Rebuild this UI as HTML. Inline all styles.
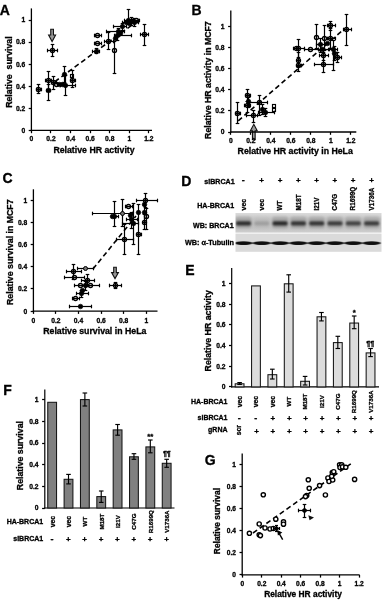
<!DOCTYPE html>
<html lang="en"><head><meta charset="utf-8"><title>Figure</title>
<style>
html,body{margin:0;padding:0;background:#fff;}
svg{display:block;font-family:"Liberation Sans",sans-serif;fill:#000;}
text{stroke:#000;stroke-width:0.3px;}
</style></head><body>
<svg width="384" height="600" viewBox="0 0 384 600">
<rect width="384" height="600" fill="#fff"/>
<g id="panelA">
<text x="-0.20" y="14.50" font-size="14" text-anchor="start" font-weight="bold" >A</text>
<line x1="31.40" y1="8.40" x2="31.40" y2="131.05" stroke="#000" stroke-width="1.3" />
<line x1="30.75" y1="130.40" x2="152.00" y2="130.40" stroke="#000" stroke-width="1.3" />
<line x1="28.70" y1="130.50" x2="31.40" y2="130.50" stroke="#000" stroke-width="1.25" />
<text x="25.20" y="132.80" font-size="6.7" text-anchor="end" font-weight="bold" >0</text>
<line x1="28.70" y1="108.50" x2="31.40" y2="108.50" stroke="#000" stroke-width="1.25" />
<text x="25.20" y="110.72" font-size="6.7" text-anchor="end" font-weight="bold" >0.2</text>
<line x1="28.70" y1="86.50" x2="31.40" y2="86.50" stroke="#000" stroke-width="1.25" />
<text x="25.20" y="88.64" font-size="6.7" text-anchor="end" font-weight="bold" >0.4</text>
<line x1="28.70" y1="64.50" x2="31.40" y2="64.50" stroke="#000" stroke-width="1.25" />
<text x="25.20" y="66.56" font-size="6.7" text-anchor="end" font-weight="bold" >0.6</text>
<line x1="28.70" y1="42.50" x2="31.40" y2="42.50" stroke="#000" stroke-width="1.25" />
<text x="25.20" y="44.48" font-size="6.7" text-anchor="end" font-weight="bold" >0.8</text>
<line x1="28.70" y1="20.50" x2="31.40" y2="20.50" stroke="#000" stroke-width="1.25" />
<text x="25.20" y="22.40" font-size="6.7" text-anchor="end" font-weight="bold" >1</text>
<line x1="31.50" y1="130.40" x2="31.50" y2="133.20" stroke="#000" stroke-width="1.25" />
<text x="31.40" y="141.40" font-size="6.7" text-anchor="middle" font-weight="bold" >0</text>
<line x1="50.50" y1="130.40" x2="50.50" y2="133.20" stroke="#000" stroke-width="1.25" />
<text x="50.98" y="141.40" font-size="6.7" text-anchor="middle" font-weight="bold" >0.2</text>
<line x1="70.50" y1="130.40" x2="70.50" y2="133.20" stroke="#000" stroke-width="1.25" />
<text x="70.56" y="141.40" font-size="6.7" text-anchor="middle" font-weight="bold" >0.4</text>
<line x1="90.50" y1="130.40" x2="90.50" y2="133.20" stroke="#000" stroke-width="1.25" />
<text x="90.14" y="141.40" font-size="6.7" text-anchor="middle" font-weight="bold" >0.6</text>
<line x1="109.50" y1="130.40" x2="109.50" y2="133.20" stroke="#000" stroke-width="1.25" />
<text x="109.72" y="141.40" font-size="6.7" text-anchor="middle" font-weight="bold" >0.8</text>
<line x1="129.50" y1="130.40" x2="129.50" y2="133.20" stroke="#000" stroke-width="1.25" />
<text x="129.30" y="141.40" font-size="6.7" text-anchor="middle" font-weight="bold" >1</text>
<line x1="148.50" y1="130.40" x2="148.50" y2="133.20" stroke="#000" stroke-width="1.25" />
<text x="148.88" y="141.40" font-size="6.7" text-anchor="middle" font-weight="bold" >1.2</text>
<text x="94.00" y="152.60" font-size="8.75" text-anchor="middle" font-weight="bold" >Relative HR activity</text>
<text x="12.00" y="72.10" font-size="8.75" text-anchor="middle" font-weight="bold" transform="rotate(-90 12.00 72.10)" xml:space="preserve">Relative  survival</text>
<line x1="54.80" y1="81.70" x2="140.40" y2="18.80" stroke="#000" stroke-width="1.6" stroke-dasharray="5 3.2"/>
<path d="M50.75 29.30H53.45V35.00H55.60L52.10 41.60L48.60 35.00H50.75Z" fill="#9a9a9a" stroke="#111" stroke-width="1.1" stroke-linejoin="miter"/>
<line x1="47.50" y1="50.50" x2="57.50" y2="50.50" stroke="#000" stroke-width="1.2" />
<line x1="47.50" y1="48.70" x2="47.50" y2="52.30" stroke="#000" stroke-width="1.2" />
<line x1="57.50" y1="48.70" x2="57.50" y2="52.30" stroke="#000" stroke-width="1.2" />
<line x1="52.50" y1="44.50" x2="52.50" y2="56.50" stroke="#000" stroke-width="1.2" />
<line x1="50.70" y1="44.50" x2="54.30" y2="44.50" stroke="#000" stroke-width="1.2" />
<line x1="50.70" y1="56.50" x2="54.30" y2="56.50" stroke="#000" stroke-width="1.2" />
<circle cx="52.50" cy="50.50" r="2.0" fill="none" stroke="#000" stroke-width="1.35"/>
<line x1="36.50" y1="89.50" x2="41.50" y2="89.50" stroke="#000" stroke-width="1.2" />
<line x1="36.50" y1="87.70" x2="36.50" y2="91.30" stroke="#000" stroke-width="1.2" />
<line x1="41.50" y1="87.70" x2="41.50" y2="91.30" stroke="#000" stroke-width="1.2" />
<line x1="38.50" y1="84.50" x2="38.50" y2="93.50" stroke="#000" stroke-width="1.2" />
<line x1="36.70" y1="84.50" x2="40.30" y2="84.50" stroke="#000" stroke-width="1.2" />
<line x1="36.70" y1="93.50" x2="40.30" y2="93.50" stroke="#000" stroke-width="1.2" />
<circle cx="38.50" cy="89.50" r="2.0" fill="none" stroke="#000" stroke-width="1.35"/>
<line x1="45.50" y1="80.50" x2="51.50" y2="80.50" stroke="#000" stroke-width="1.2" />
<line x1="45.50" y1="78.70" x2="45.50" y2="82.30" stroke="#000" stroke-width="1.2" />
<line x1="51.50" y1="78.70" x2="51.50" y2="82.30" stroke="#000" stroke-width="1.2" />
<line x1="48.50" y1="71.50" x2="48.50" y2="89.50" stroke="#000" stroke-width="1.2" />
<line x1="46.70" y1="71.50" x2="50.30" y2="71.50" stroke="#000" stroke-width="1.2" />
<line x1="46.70" y1="89.50" x2="50.30" y2="89.50" stroke="#000" stroke-width="1.2" />
<circle cx="48.50" cy="80.50" r="2.0" fill="none" stroke="#000" stroke-width="1.35"/>
<line x1="46.50" y1="90.50" x2="50.50" y2="90.50" stroke="#000" stroke-width="1.2" />
<line x1="46.50" y1="88.70" x2="46.50" y2="92.30" stroke="#000" stroke-width="1.2" />
<line x1="50.50" y1="88.70" x2="50.50" y2="92.30" stroke="#000" stroke-width="1.2" />
<line x1="48.50" y1="84.50" x2="48.50" y2="100.50" stroke="#000" stroke-width="1.2" />
<line x1="46.70" y1="84.50" x2="50.30" y2="84.50" stroke="#000" stroke-width="1.2" />
<line x1="46.70" y1="100.50" x2="50.30" y2="100.50" stroke="#000" stroke-width="1.2" />
<circle cx="48.50" cy="90.50" r="2.3" fill="#000" stroke="#000" stroke-width="0.6"/>
<line x1="51.50" y1="82.50" x2="56.50" y2="82.50" stroke="#000" stroke-width="1.2" />
<line x1="51.50" y1="80.70" x2="51.50" y2="84.30" stroke="#000" stroke-width="1.2" />
<line x1="56.50" y1="80.70" x2="56.50" y2="84.30" stroke="#000" stroke-width="1.2" />
<line x1="53.50" y1="76.50" x2="53.50" y2="89.50" stroke="#000" stroke-width="1.2" />
<line x1="51.70" y1="76.50" x2="55.30" y2="76.50" stroke="#000" stroke-width="1.2" />
<line x1="51.70" y1="89.50" x2="55.30" y2="89.50" stroke="#000" stroke-width="1.2" />
<circle cx="53.50" cy="82.50" r="2.0" fill="none" stroke="#000" stroke-width="1.35"/>
<line x1="64.50" y1="66.50" x2="64.50" y2="82.50" stroke="#000" stroke-width="1.2" />
<line x1="62.70" y1="66.50" x2="66.30" y2="66.50" stroke="#000" stroke-width="1.2" />
<line x1="62.70" y1="82.50" x2="66.30" y2="82.50" stroke="#000" stroke-width="1.2" />
<circle cx="64.50" cy="74.50" r="2.3" fill="#000" stroke="#000" stroke-width="0.6"/>
<line x1="60.50" y1="85.50" x2="75.50" y2="85.50" stroke="#000" stroke-width="1.2" />
<line x1="60.50" y1="83.70" x2="60.50" y2="87.30" stroke="#000" stroke-width="1.2" />
<line x1="75.50" y1="83.70" x2="75.50" y2="87.30" stroke="#000" stroke-width="1.2" />
<line x1="65.50" y1="75.50" x2="65.50" y2="95.50" stroke="#000" stroke-width="1.2" />
<line x1="63.70" y1="75.50" x2="67.30" y2="75.50" stroke="#000" stroke-width="1.2" />
<line x1="63.70" y1="95.50" x2="67.30" y2="95.50" stroke="#000" stroke-width="1.2" />
<circle cx="65.50" cy="85.50" r="2.3" fill="#000" stroke="#000" stroke-width="0.6"/>
<line x1="57.50" y1="84.50" x2="62.50" y2="84.50" stroke="#000" stroke-width="1.2" />
<line x1="57.50" y1="82.70" x2="57.50" y2="86.30" stroke="#000" stroke-width="1.2" />
<line x1="62.50" y1="82.70" x2="62.50" y2="86.30" stroke="#000" stroke-width="1.2" />
<circle cx="59.50" cy="84.50" r="2.3" fill="#000" stroke="#000" stroke-width="0.6"/>
<circle cx="62.50" cy="84.50" r="2.3" fill="#000" stroke="#000" stroke-width="0.6"/>
<circle cx="56.50" cy="84.50" r="2.0" fill="none" stroke="#000" stroke-width="1.35"/>
<line x1="72.50" y1="70.50" x2="72.50" y2="87.50" stroke="#000" stroke-width="1.2" />
<line x1="70.70" y1="70.50" x2="74.30" y2="70.50" stroke="#000" stroke-width="1.2" />
<line x1="70.70" y1="87.50" x2="74.30" y2="87.50" stroke="#000" stroke-width="1.2" />
<rect x="70.50" y="74.50" width="3.0" height="3.0" fill="none" stroke="#000" stroke-width="1.15"/>
<line x1="70.50" y1="80.50" x2="75.50" y2="80.50" stroke="#000" stroke-width="1.2" />
<line x1="70.50" y1="78.70" x2="70.50" y2="82.30" stroke="#000" stroke-width="1.2" />
<line x1="75.50" y1="78.70" x2="75.50" y2="82.30" stroke="#000" stroke-width="1.2" />
<circle cx="72.50" cy="80.50" r="2.0" fill="none" stroke="#000" stroke-width="1.35"/>
<line x1="92.50" y1="51.50" x2="99.50" y2="51.50" stroke="#000" stroke-width="1.2" />
<line x1="92.50" y1="49.70" x2="92.50" y2="53.30" stroke="#000" stroke-width="1.2" />
<line x1="99.50" y1="49.70" x2="99.50" y2="53.30" stroke="#000" stroke-width="1.2" />
<line x1="96.50" y1="48.50" x2="96.50" y2="53.50" stroke="#000" stroke-width="1.2" />
<line x1="94.70" y1="48.50" x2="98.30" y2="48.50" stroke="#000" stroke-width="1.2" />
<line x1="94.70" y1="53.50" x2="98.30" y2="53.50" stroke="#000" stroke-width="1.2" />
<circle cx="96.50" cy="51.50" r="2.3" fill="#000" stroke="#000" stroke-width="0.6"/>
<line x1="94.50" y1="43.50" x2="101.50" y2="43.50" stroke="#000" stroke-width="1.2" />
<line x1="94.50" y1="41.70" x2="94.50" y2="45.30" stroke="#000" stroke-width="1.2" />
<line x1="101.50" y1="41.70" x2="101.50" y2="45.30" stroke="#000" stroke-width="1.2" />
<circle cx="97.50" cy="43.50" r="2.0" fill="none" stroke="#000" stroke-width="1.35"/>
<line x1="94.50" y1="35.50" x2="101.50" y2="35.50" stroke="#000" stroke-width="1.2" />
<line x1="94.50" y1="33.70" x2="94.50" y2="37.30" stroke="#000" stroke-width="1.2" />
<line x1="101.50" y1="33.70" x2="101.50" y2="37.30" stroke="#000" stroke-width="1.2" />
<circle cx="97.50" cy="35.50" r="2.0" fill="none" stroke="#000" stroke-width="1.35"/>
<line x1="114.50" y1="41.50" x2="114.50" y2="73.50" stroke="#000" stroke-width="1.2" />
<line x1="112.70" y1="41.50" x2="116.30" y2="41.50" stroke="#000" stroke-width="1.2" />
<line x1="112.70" y1="73.50" x2="116.30" y2="73.50" stroke="#000" stroke-width="1.2" />
<circle cx="114.50" cy="50.50" r="2.0" fill="none" stroke="#000" stroke-width="1.35"/>
<line x1="104.50" y1="41.50" x2="113.50" y2="41.50" stroke="#000" stroke-width="1.2" />
<line x1="104.50" y1="39.70" x2="104.50" y2="43.30" stroke="#000" stroke-width="1.2" />
<line x1="113.50" y1="39.70" x2="113.50" y2="43.30" stroke="#000" stroke-width="1.2" />
<line x1="108.50" y1="32.50" x2="108.50" y2="49.50" stroke="#000" stroke-width="1.2" />
<line x1="106.70" y1="32.50" x2="110.30" y2="32.50" stroke="#000" stroke-width="1.2" />
<line x1="106.70" y1="49.50" x2="110.30" y2="49.50" stroke="#000" stroke-width="1.2" />
<circle cx="108.50" cy="41.50" r="2.0" fill="none" stroke="#000" stroke-width="1.35"/>
<line x1="114.50" y1="35.50" x2="131.50" y2="35.50" stroke="#000" stroke-width="1.2" />
<line x1="114.50" y1="33.70" x2="114.50" y2="37.30" stroke="#000" stroke-width="1.2" />
<line x1="131.50" y1="33.70" x2="131.50" y2="37.30" stroke="#000" stroke-width="1.2" />
<line x1="117.50" y1="31.50" x2="117.50" y2="40.50" stroke="#000" stroke-width="1.2" />
<line x1="115.70" y1="31.50" x2="119.30" y2="31.50" stroke="#000" stroke-width="1.2" />
<line x1="115.70" y1="40.50" x2="119.30" y2="40.50" stroke="#000" stroke-width="1.2" />
<circle cx="117.50" cy="35.50" r="2.3" fill="#000" stroke="#000" stroke-width="0.6"/>
<line x1="106.50" y1="31.50" x2="124.50" y2="31.50" stroke="#000" stroke-width="1.2" />
<line x1="106.50" y1="29.70" x2="106.50" y2="33.30" stroke="#000" stroke-width="1.2" />
<line x1="124.50" y1="29.70" x2="124.50" y2="33.30" stroke="#000" stroke-width="1.2" />
<line x1="118.50" y1="28.50" x2="118.50" y2="36.50" stroke="#000" stroke-width="1.2" />
<line x1="116.70" y1="28.50" x2="120.30" y2="28.50" stroke="#000" stroke-width="1.2" />
<line x1="116.70" y1="36.50" x2="120.30" y2="36.50" stroke="#000" stroke-width="1.2" />
<circle cx="118.50" cy="31.50" r="2.3" fill="#000" stroke="#000" stroke-width="0.6"/>
<line x1="113.50" y1="26.50" x2="126.50" y2="26.50" stroke="#000" stroke-width="1.2" />
<line x1="113.50" y1="24.70" x2="113.50" y2="28.30" stroke="#000" stroke-width="1.2" />
<line x1="126.50" y1="24.70" x2="126.50" y2="28.30" stroke="#000" stroke-width="1.2" />
<line x1="122.50" y1="23.50" x2="122.50" y2="30.50" stroke="#000" stroke-width="1.2" />
<line x1="120.70" y1="23.50" x2="124.30" y2="23.50" stroke="#000" stroke-width="1.2" />
<line x1="120.70" y1="30.50" x2="124.30" y2="30.50" stroke="#000" stroke-width="1.2" />
<circle cx="122.50" cy="26.50" r="2.3" fill="#000" stroke="#000" stroke-width="0.6"/>
<circle cx="120.50" cy="33.50" r="2.3" fill="#000" stroke="#000" stroke-width="0.6"/>
<circle cx="115.50" cy="38.50" r="2.3" fill="#000" stroke="#000" stroke-width="0.6"/>
<line x1="122.50" y1="22.50" x2="130.50" y2="22.50" stroke="#000" stroke-width="1.2" />
<line x1="122.50" y1="20.70" x2="122.50" y2="24.30" stroke="#000" stroke-width="1.2" />
<line x1="130.50" y1="20.70" x2="130.50" y2="24.30" stroke="#000" stroke-width="1.2" />
<circle cx="126.50" cy="22.50" r="2.3" fill="#000" stroke="#000" stroke-width="0.6"/>
<line x1="124.50" y1="20.50" x2="133.50" y2="20.50" stroke="#000" stroke-width="1.2" />
<line x1="124.50" y1="18.70" x2="124.50" y2="22.30" stroke="#000" stroke-width="1.2" />
<line x1="133.50" y1="18.70" x2="133.50" y2="22.30" stroke="#000" stroke-width="1.2" />
<line x1="128.50" y1="9.50" x2="128.50" y2="24.50" stroke="#000" stroke-width="1.2" />
<line x1="126.70" y1="9.50" x2="130.30" y2="9.50" stroke="#000" stroke-width="1.2" />
<line x1="126.70" y1="24.50" x2="130.30" y2="24.50" stroke="#000" stroke-width="1.2" />
<circle cx="128.50" cy="20.50" r="2.3" fill="#000" stroke="#000" stroke-width="0.6"/>
<line x1="127.50" y1="21.50" x2="137.50" y2="21.50" stroke="#000" stroke-width="1.2" />
<line x1="127.50" y1="19.70" x2="127.50" y2="23.30" stroke="#000" stroke-width="1.2" />
<line x1="137.50" y1="19.70" x2="137.50" y2="23.30" stroke="#000" stroke-width="1.2" />
<line x1="131.50" y1="17.50" x2="131.50" y2="25.50" stroke="#000" stroke-width="1.2" />
<line x1="129.70" y1="17.50" x2="133.30" y2="17.50" stroke="#000" stroke-width="1.2" />
<line x1="129.70" y1="25.50" x2="133.30" y2="25.50" stroke="#000" stroke-width="1.2" />
<circle cx="131.50" cy="21.50" r="2.3" fill="#000" stroke="#000" stroke-width="0.6"/>
<line x1="130.50" y1="22.50" x2="138.50" y2="22.50" stroke="#000" stroke-width="1.2" />
<line x1="130.50" y1="20.70" x2="130.50" y2="24.30" stroke="#000" stroke-width="1.2" />
<line x1="138.50" y1="20.70" x2="138.50" y2="24.30" stroke="#000" stroke-width="1.2" />
<line x1="134.50" y1="18.50" x2="134.50" y2="26.50" stroke="#000" stroke-width="1.2" />
<line x1="132.70" y1="18.50" x2="136.30" y2="18.50" stroke="#000" stroke-width="1.2" />
<line x1="132.70" y1="26.50" x2="136.30" y2="26.50" stroke="#000" stroke-width="1.2" />
<circle cx="134.50" cy="22.50" r="2.3" fill="#000" stroke="#000" stroke-width="0.6"/>
<line x1="132.50" y1="20.50" x2="139.50" y2="20.50" stroke="#000" stroke-width="1.2" />
<line x1="132.50" y1="18.70" x2="132.50" y2="22.30" stroke="#000" stroke-width="1.2" />
<line x1="139.50" y1="18.70" x2="139.50" y2="22.30" stroke="#000" stroke-width="1.2" />
<circle cx="136.50" cy="20.50" r="2.0" fill="none" stroke="#000" stroke-width="1.35"/>
<circle cx="129.50" cy="23.50" r="2.3" fill="#000" stroke="#000" stroke-width="0.6"/>
<line x1="140.50" y1="34.50" x2="148.50" y2="34.50" stroke="#000" stroke-width="1.2" />
<line x1="140.50" y1="32.70" x2="140.50" y2="36.30" stroke="#000" stroke-width="1.2" />
<line x1="148.50" y1="32.70" x2="148.50" y2="36.30" stroke="#000" stroke-width="1.2" />
<line x1="144.50" y1="24.50" x2="144.50" y2="45.50" stroke="#000" stroke-width="1.2" />
<line x1="142.70" y1="24.50" x2="146.30" y2="24.50" stroke="#000" stroke-width="1.2" />
<line x1="142.70" y1="45.50" x2="146.30" y2="45.50" stroke="#000" stroke-width="1.2" />
<circle cx="144.50" cy="34.50" r="2.0" fill="none" stroke="#000" stroke-width="1.35"/>
</g>
<g id="panelB">
<text x="191.40" y="15.20" font-size="14" text-anchor="start" font-weight="bold" >B</text>
<path d="M252.45 139.80H255.15V130.70H257.20L253.80 124.30L250.40 130.70H252.45Z" fill="#9a9a9a" stroke="#111" stroke-width="1.1" stroke-linejoin="miter"/>
<line x1="230.80" y1="10.40" x2="230.80" y2="132.65" stroke="#000" stroke-width="1.3" />
<line x1="230.15" y1="132.00" x2="356.30" y2="132.00" stroke="#000" stroke-width="1.3" />
<line x1="228.10" y1="132.50" x2="230.80" y2="132.50" stroke="#000" stroke-width="1.25" />
<text x="224.60" y="134.40" font-size="6.7" text-anchor="end" font-weight="bold" >0</text>
<line x1="228.10" y1="110.50" x2="230.80" y2="110.50" stroke="#000" stroke-width="1.25" />
<text x="224.60" y="113.24" font-size="6.7" text-anchor="end" font-weight="bold" >0.2</text>
<line x1="228.10" y1="89.50" x2="230.80" y2="89.50" stroke="#000" stroke-width="1.25" />
<text x="224.60" y="92.08" font-size="6.7" text-anchor="end" font-weight="bold" >0.4</text>
<line x1="228.10" y1="68.50" x2="230.80" y2="68.50" stroke="#000" stroke-width="1.25" />
<text x="224.60" y="70.92" font-size="6.7" text-anchor="end" font-weight="bold" >0.6</text>
<line x1="228.10" y1="47.50" x2="230.80" y2="47.50" stroke="#000" stroke-width="1.25" />
<text x="224.60" y="49.76" font-size="6.7" text-anchor="end" font-weight="bold" >0.8</text>
<line x1="228.10" y1="26.50" x2="230.80" y2="26.50" stroke="#000" stroke-width="1.25" />
<text x="224.60" y="28.60" font-size="6.7" text-anchor="end" font-weight="bold" >1</text>
<line x1="230.50" y1="132.00" x2="230.50" y2="134.80" stroke="#000" stroke-width="1.25" />
<text x="230.80" y="142.70" font-size="6.7" text-anchor="middle" font-weight="bold" >0</text>
<line x1="250.50" y1="132.00" x2="250.50" y2="134.80" stroke="#000" stroke-width="1.25" />
<text x="250.80" y="142.70" font-size="6.7" text-anchor="middle" font-weight="bold" >0.2</text>
<line x1="270.50" y1="132.00" x2="270.50" y2="134.80" stroke="#000" stroke-width="1.25" />
<text x="270.80" y="142.70" font-size="6.7" text-anchor="middle" font-weight="bold" >0.4</text>
<line x1="290.50" y1="132.00" x2="290.50" y2="134.80" stroke="#000" stroke-width="1.25" />
<text x="290.80" y="142.70" font-size="6.7" text-anchor="middle" font-weight="bold" >0.6</text>
<line x1="310.50" y1="132.00" x2="310.50" y2="134.80" stroke="#000" stroke-width="1.25" />
<text x="310.80" y="142.70" font-size="6.7" text-anchor="middle" font-weight="bold" >0.8</text>
<line x1="330.50" y1="132.00" x2="330.50" y2="134.80" stroke="#000" stroke-width="1.25" />
<text x="330.80" y="142.70" font-size="6.7" text-anchor="middle" font-weight="bold" >1</text>
<line x1="350.50" y1="132.00" x2="350.50" y2="134.80" stroke="#000" stroke-width="1.25" />
<text x="350.80" y="142.70" font-size="6.7" text-anchor="middle" font-weight="bold" >1.2</text>
<text x="295.20" y="154.20" font-size="8.75" text-anchor="middle" font-weight="bold" >Relative HR activity in HeLa</text>
<text x="211.00" y="80.10" font-size="8.75" text-anchor="middle" font-weight="bold" transform="rotate(-90 211.00 80.10)" xml:space="preserve">Relative HR activity in MCF7</text>
<line x1="238.20" y1="120.80" x2="343.00" y2="30.00" stroke="#000" stroke-width="1.6" stroke-dasharray="5 3.2"/>
<line x1="235.50" y1="113.50" x2="240.50" y2="113.50" stroke="#000" stroke-width="1.2" />
<line x1="235.50" y1="111.70" x2="235.50" y2="115.30" stroke="#000" stroke-width="1.2" />
<line x1="240.50" y1="111.70" x2="240.50" y2="115.30" stroke="#000" stroke-width="1.2" />
<line x1="237.50" y1="102.50" x2="237.50" y2="123.50" stroke="#000" stroke-width="1.2" />
<line x1="235.70" y1="102.50" x2="239.30" y2="102.50" stroke="#000" stroke-width="1.2" />
<line x1="235.70" y1="123.50" x2="239.30" y2="123.50" stroke="#000" stroke-width="1.2" />
<circle cx="237.50" cy="113.50" r="2.0" fill="none" stroke="#000" stroke-width="1.35"/>
<line x1="245.50" y1="95.50" x2="250.50" y2="95.50" stroke="#000" stroke-width="1.2" />
<line x1="245.50" y1="93.70" x2="245.50" y2="97.30" stroke="#000" stroke-width="1.2" />
<line x1="250.50" y1="93.70" x2="250.50" y2="97.30" stroke="#000" stroke-width="1.2" />
<line x1="247.50" y1="89.50" x2="247.50" y2="101.50" stroke="#000" stroke-width="1.2" />
<line x1="245.70" y1="89.50" x2="249.30" y2="89.50" stroke="#000" stroke-width="1.2" />
<line x1="245.70" y1="101.50" x2="249.30" y2="101.50" stroke="#000" stroke-width="1.2" />
<circle cx="247.50" cy="95.50" r="2.0" fill="none" stroke="#000" stroke-width="1.35"/>
<line x1="248.50" y1="97.50" x2="248.50" y2="107.50" stroke="#000" stroke-width="1.2" />
<line x1="246.70" y1="97.50" x2="250.30" y2="97.50" stroke="#000" stroke-width="1.2" />
<line x1="246.70" y1="107.50" x2="250.30" y2="107.50" stroke="#000" stroke-width="1.2" />
<circle cx="248.50" cy="101.50" r="2.3" fill="#000" stroke="#000" stroke-width="0.6"/>
<line x1="244.50" y1="105.50" x2="250.50" y2="105.50" stroke="#000" stroke-width="1.2" />
<line x1="244.50" y1="103.70" x2="244.50" y2="107.30" stroke="#000" stroke-width="1.2" />
<line x1="250.50" y1="103.70" x2="250.50" y2="107.30" stroke="#000" stroke-width="1.2" />
<line x1="247.50" y1="101.50" x2="247.50" y2="112.50" stroke="#000" stroke-width="1.2" />
<line x1="245.70" y1="101.50" x2="249.30" y2="101.50" stroke="#000" stroke-width="1.2" />
<line x1="245.70" y1="112.50" x2="249.30" y2="112.50" stroke="#000" stroke-width="1.2" />
<circle cx="247.50" cy="105.50" r="2.0" fill="none" stroke="#000" stroke-width="1.35"/>
<line x1="249.50" y1="102.50" x2="267.50" y2="102.50" stroke="#000" stroke-width="1.2" />
<line x1="249.50" y1="100.70" x2="249.50" y2="104.30" stroke="#000" stroke-width="1.2" />
<line x1="267.50" y1="100.70" x2="267.50" y2="104.30" stroke="#000" stroke-width="1.2" />
<line x1="259.50" y1="95.50" x2="259.50" y2="115.50" stroke="#000" stroke-width="1.2" />
<line x1="257.70" y1="95.50" x2="261.30" y2="95.50" stroke="#000" stroke-width="1.2" />
<line x1="257.70" y1="115.50" x2="261.30" y2="115.50" stroke="#000" stroke-width="1.2" />
<circle cx="259.50" cy="102.50" r="2.0" fill="none" stroke="#000" stroke-width="1.35"/>
<line x1="246.50" y1="115.50" x2="257.50" y2="115.50" stroke="#000" stroke-width="1.2" />
<line x1="246.50" y1="113.70" x2="246.50" y2="117.30" stroke="#000" stroke-width="1.2" />
<line x1="257.50" y1="113.70" x2="257.50" y2="117.30" stroke="#000" stroke-width="1.2" />
<line x1="253.50" y1="110.50" x2="253.50" y2="122.50" stroke="#000" stroke-width="1.2" />
<line x1="251.70" y1="110.50" x2="255.30" y2="110.50" stroke="#000" stroke-width="1.2" />
<line x1="251.70" y1="122.50" x2="255.30" y2="122.50" stroke="#000" stroke-width="1.2" />
<circle cx="253.50" cy="115.50" r="2.0" fill="none" stroke="#000" stroke-width="1.35"/>
<line x1="262.50" y1="104.50" x2="262.50" y2="114.50" stroke="#000" stroke-width="1.2" />
<line x1="260.70" y1="104.50" x2="264.30" y2="104.50" stroke="#000" stroke-width="1.2" />
<line x1="260.70" y1="114.50" x2="264.30" y2="114.50" stroke="#000" stroke-width="1.2" />
<circle cx="262.50" cy="109.50" r="2.3" fill="#000" stroke="#000" stroke-width="0.6"/>
<line x1="258.50" y1="112.50" x2="274.50" y2="112.50" stroke="#000" stroke-width="1.2" />
<line x1="258.50" y1="110.70" x2="258.50" y2="114.30" stroke="#000" stroke-width="1.2" />
<line x1="274.50" y1="110.70" x2="274.50" y2="114.30" stroke="#000" stroke-width="1.2" />
<line x1="265.50" y1="108.50" x2="265.50" y2="116.50" stroke="#000" stroke-width="1.2" />
<line x1="263.70" y1="108.50" x2="267.30" y2="108.50" stroke="#000" stroke-width="1.2" />
<line x1="263.70" y1="116.50" x2="267.30" y2="116.50" stroke="#000" stroke-width="1.2" />
<circle cx="265.50" cy="112.50" r="2.3" fill="#000" stroke="#000" stroke-width="0.6"/>
<rect x="272.50" y="104.50" width="3.0" height="3.0" fill="none" stroke="#000" stroke-width="1.15"/>
<rect x="272.50" y="108.50" width="3.0" height="3.0" fill="none" stroke="#000" stroke-width="1.15"/>
<line x1="343.50" y1="29.50" x2="351.50" y2="29.50" stroke="#000" stroke-width="1.2" />
<line x1="343.50" y1="27.70" x2="343.50" y2="31.30" stroke="#000" stroke-width="1.2" />
<line x1="351.50" y1="27.70" x2="351.50" y2="31.30" stroke="#000" stroke-width="1.2" />
<line x1="346.50" y1="14.50" x2="346.50" y2="45.50" stroke="#000" stroke-width="1.2" />
<line x1="344.70" y1="14.50" x2="348.30" y2="14.50" stroke="#000" stroke-width="1.2" />
<line x1="344.70" y1="45.50" x2="348.30" y2="45.50" stroke="#000" stroke-width="1.2" />
<circle cx="346.50" cy="29.50" r="2.0" fill="none" stroke="#000" stroke-width="1.35"/>
<line x1="327.50" y1="25.50" x2="335.50" y2="25.50" stroke="#000" stroke-width="1.2" />
<line x1="327.50" y1="23.70" x2="327.50" y2="27.30" stroke="#000" stroke-width="1.2" />
<line x1="335.50" y1="23.70" x2="335.50" y2="27.30" stroke="#000" stroke-width="1.2" />
<line x1="330.50" y1="21.50" x2="330.50" y2="30.50" stroke="#000" stroke-width="1.2" />
<line x1="328.70" y1="21.50" x2="332.30" y2="21.50" stroke="#000" stroke-width="1.2" />
<line x1="328.70" y1="30.50" x2="332.30" y2="30.50" stroke="#000" stroke-width="1.2" />
<circle cx="330.50" cy="25.50" r="2.0" fill="none" stroke="#000" stroke-width="1.35"/>
<line x1="316.50" y1="24.50" x2="316.50" y2="48.50" stroke="#000" stroke-width="1.2" />
<line x1="314.70" y1="24.50" x2="318.30" y2="24.50" stroke="#000" stroke-width="1.2" />
<line x1="314.70" y1="48.50" x2="318.30" y2="48.50" stroke="#000" stroke-width="1.2" />
<circle cx="316.50" cy="37.50" r="2.0" fill="none" stroke="#000" stroke-width="1.35"/>
<line x1="324.50" y1="25.50" x2="324.50" y2="50.50" stroke="#000" stroke-width="1.2" />
<line x1="322.70" y1="25.50" x2="326.30" y2="25.50" stroke="#000" stroke-width="1.2" />
<line x1="322.70" y1="50.50" x2="326.30" y2="50.50" stroke="#000" stroke-width="1.2" />
<circle cx="324.50" cy="38.50" r="2.0" fill="none" stroke="#000" stroke-width="1.35"/>
<line x1="327.50" y1="38.50" x2="335.50" y2="38.50" stroke="#000" stroke-width="1.2" />
<line x1="327.50" y1="36.70" x2="327.50" y2="40.30" stroke="#000" stroke-width="1.2" />
<line x1="335.50" y1="36.70" x2="335.50" y2="40.30" stroke="#000" stroke-width="1.2" />
<line x1="330.50" y1="28.50" x2="330.50" y2="48.50" stroke="#000" stroke-width="1.2" />
<line x1="328.70" y1="28.50" x2="332.30" y2="28.50" stroke="#000" stroke-width="1.2" />
<line x1="328.70" y1="48.50" x2="332.30" y2="48.50" stroke="#000" stroke-width="1.2" />
<circle cx="330.50" cy="38.50" r="2.0" fill="none" stroke="#000" stroke-width="1.35"/>
<line x1="293.50" y1="48.50" x2="304.50" y2="48.50" stroke="#000" stroke-width="1.2" />
<line x1="293.50" y1="46.70" x2="293.50" y2="50.30" stroke="#000" stroke-width="1.2" />
<line x1="304.50" y1="46.70" x2="304.50" y2="50.30" stroke="#000" stroke-width="1.2" />
<line x1="298.50" y1="39.50" x2="298.50" y2="57.50" stroke="#000" stroke-width="1.2" />
<line x1="296.70" y1="39.50" x2="300.30" y2="39.50" stroke="#000" stroke-width="1.2" />
<line x1="296.70" y1="57.50" x2="300.30" y2="57.50" stroke="#000" stroke-width="1.2" />
<circle cx="298.50" cy="48.50" r="2.0" fill="none" stroke="#000" stroke-width="1.35"/>
<circle cx="296.50" cy="48.50" r="2.0" fill="none" stroke="#000" stroke-width="1.35"/>
<line x1="304.50" y1="49.50" x2="318.50" y2="49.50" stroke="#000" stroke-width="1.2" />
<line x1="304.50" y1="47.70" x2="304.50" y2="51.30" stroke="#000" stroke-width="1.2" />
<line x1="318.50" y1="47.70" x2="318.50" y2="51.30" stroke="#000" stroke-width="1.2" />
<circle cx="310.50" cy="49.50" r="2.0" fill="none" stroke="#000" stroke-width="1.35"/>
<line x1="316.50" y1="44.50" x2="325.50" y2="44.50" stroke="#000" stroke-width="1.2" />
<line x1="316.50" y1="42.70" x2="316.50" y2="46.30" stroke="#000" stroke-width="1.2" />
<line x1="325.50" y1="42.70" x2="325.50" y2="46.30" stroke="#000" stroke-width="1.2" />
<line x1="320.50" y1="38.50" x2="320.50" y2="52.50" stroke="#000" stroke-width="1.2" />
<line x1="318.70" y1="38.50" x2="322.30" y2="38.50" stroke="#000" stroke-width="1.2" />
<line x1="318.70" y1="52.50" x2="322.30" y2="52.50" stroke="#000" stroke-width="1.2" />
<circle cx="320.50" cy="44.50" r="2.3" fill="#000" stroke="#000" stroke-width="0.6"/>
<line x1="318.50" y1="49.50" x2="328.50" y2="49.50" stroke="#000" stroke-width="1.2" />
<line x1="318.50" y1="47.70" x2="318.50" y2="51.30" stroke="#000" stroke-width="1.2" />
<line x1="328.50" y1="47.70" x2="328.50" y2="51.30" stroke="#000" stroke-width="1.2" />
<circle cx="322.50" cy="49.50" r="2.3" fill="#000" stroke="#000" stroke-width="0.6"/>
<line x1="319.50" y1="55.50" x2="328.50" y2="55.50" stroke="#000" stroke-width="1.2" />
<line x1="319.50" y1="53.70" x2="319.50" y2="57.30" stroke="#000" stroke-width="1.2" />
<line x1="328.50" y1="53.70" x2="328.50" y2="57.30" stroke="#000" stroke-width="1.2" />
<line x1="323.50" y1="48.50" x2="323.50" y2="60.50" stroke="#000" stroke-width="1.2" />
<line x1="321.70" y1="48.50" x2="325.30" y2="48.50" stroke="#000" stroke-width="1.2" />
<line x1="321.70" y1="60.50" x2="325.30" y2="60.50" stroke="#000" stroke-width="1.2" />
<circle cx="323.50" cy="55.50" r="2.0" fill="none" stroke="#000" stroke-width="1.35"/>
<line x1="329.50" y1="49.50" x2="337.50" y2="49.50" stroke="#000" stroke-width="1.2" />
<line x1="329.50" y1="47.70" x2="329.50" y2="51.30" stroke="#000" stroke-width="1.2" />
<line x1="337.50" y1="47.70" x2="337.50" y2="51.30" stroke="#000" stroke-width="1.2" />
<circle cx="333.50" cy="49.50" r="2.3" fill="#000" stroke="#000" stroke-width="0.6"/>
<line x1="334.50" y1="46.50" x2="334.50" y2="60.50" stroke="#000" stroke-width="1.2" />
<line x1="332.70" y1="46.50" x2="336.30" y2="46.50" stroke="#000" stroke-width="1.2" />
<line x1="332.70" y1="60.50" x2="336.30" y2="60.50" stroke="#000" stroke-width="1.2" />
<circle cx="334.50" cy="53.50" r="2.3" fill="#000" stroke="#000" stroke-width="0.6"/>
<line x1="334.50" y1="57.50" x2="341.50" y2="57.50" stroke="#000" stroke-width="1.2" />
<line x1="334.50" y1="55.70" x2="334.50" y2="59.30" stroke="#000" stroke-width="1.2" />
<line x1="341.50" y1="55.70" x2="341.50" y2="59.30" stroke="#000" stroke-width="1.2" />
<line x1="337.50" y1="52.50" x2="337.50" y2="62.50" stroke="#000" stroke-width="1.2" />
<line x1="335.70" y1="52.50" x2="339.30" y2="52.50" stroke="#000" stroke-width="1.2" />
<line x1="335.70" y1="62.50" x2="339.30" y2="62.50" stroke="#000" stroke-width="1.2" />
<circle cx="337.50" cy="57.50" r="2.0" fill="none" stroke="#000" stroke-width="1.35"/>
<line x1="314.50" y1="64.50" x2="333.50" y2="64.50" stroke="#000" stroke-width="1.2" />
<line x1="314.50" y1="62.70" x2="314.50" y2="66.30" stroke="#000" stroke-width="1.2" />
<line x1="333.50" y1="62.70" x2="333.50" y2="66.30" stroke="#000" stroke-width="1.2" />
<line x1="323.50" y1="52.50" x2="323.50" y2="72.50" stroke="#000" stroke-width="1.2" />
<line x1="321.70" y1="52.50" x2="325.30" y2="52.50" stroke="#000" stroke-width="1.2" />
<line x1="321.70" y1="72.50" x2="325.30" y2="72.50" stroke="#000" stroke-width="1.2" />
<circle cx="323.50" cy="64.50" r="2.0" fill="none" stroke="#000" stroke-width="1.35"/>
<line x1="333.50" y1="40.50" x2="333.50" y2="70.50" stroke="#000" stroke-width="1.2" />
<line x1="331.70" y1="40.50" x2="335.30" y2="40.50" stroke="#000" stroke-width="1.2" />
<line x1="331.70" y1="70.50" x2="335.30" y2="70.50" stroke="#000" stroke-width="1.2" />
<line x1="298.50" y1="52.50" x2="298.50" y2="66.50" stroke="#000" stroke-width="1.2" />
<line x1="296.70" y1="52.50" x2="300.30" y2="52.50" stroke="#000" stroke-width="1.2" />
<line x1="296.70" y1="66.50" x2="300.30" y2="66.50" stroke="#000" stroke-width="1.2" />
<circle cx="298.50" cy="60.50" r="2.0" fill="none" stroke="#000" stroke-width="1.35"/>
<line x1="296.50" y1="65.50" x2="301.50" y2="65.50" stroke="#000" stroke-width="1.2" />
<line x1="296.50" y1="63.70" x2="296.50" y2="67.30" stroke="#000" stroke-width="1.2" />
<line x1="301.50" y1="63.70" x2="301.50" y2="67.30" stroke="#000" stroke-width="1.2" />
<line x1="298.50" y1="60.50" x2="298.50" y2="71.50" stroke="#000" stroke-width="1.2" />
<line x1="296.70" y1="60.50" x2="300.30" y2="60.50" stroke="#000" stroke-width="1.2" />
<line x1="296.70" y1="71.50" x2="300.30" y2="71.50" stroke="#000" stroke-width="1.2" />
<circle cx="298.50" cy="65.50" r="2.0" fill="none" stroke="#000" stroke-width="1.35"/>
<circle cx="327.50" cy="43.50" r="2.3" fill="#000" stroke="#000" stroke-width="0.6"/>
</g>
<g id="panelC">
<text x="2.40" y="182.60" font-size="14" text-anchor="start" font-weight="bold" >C</text>
<line x1="33.40" y1="189.30" x2="33.40" y2="311.75" stroke="#000" stroke-width="1.3" />
<line x1="32.75" y1="311.10" x2="157.50" y2="311.10" stroke="#000" stroke-width="1.3" />
<line x1="30.70" y1="311.50" x2="33.40" y2="311.50" stroke="#000" stroke-width="1.25" />
<text x="27.20" y="313.50" font-size="6.7" text-anchor="end" font-weight="bold" >0</text>
<line x1="30.70" y1="288.50" x2="33.40" y2="288.50" stroke="#000" stroke-width="1.25" />
<text x="27.20" y="291.34" font-size="6.7" text-anchor="end" font-weight="bold" >0.2</text>
<line x1="30.70" y1="266.50" x2="33.40" y2="266.50" stroke="#000" stroke-width="1.25" />
<text x="27.20" y="269.18" font-size="6.7" text-anchor="end" font-weight="bold" >0.4</text>
<line x1="30.70" y1="244.50" x2="33.40" y2="244.50" stroke="#000" stroke-width="1.25" />
<text x="27.20" y="247.02" font-size="6.7" text-anchor="end" font-weight="bold" >0.6</text>
<line x1="30.70" y1="222.50" x2="33.40" y2="222.50" stroke="#000" stroke-width="1.25" />
<text x="27.20" y="224.86" font-size="6.7" text-anchor="end" font-weight="bold" >0.8</text>
<line x1="30.70" y1="200.50" x2="33.40" y2="200.50" stroke="#000" stroke-width="1.25" />
<text x="27.20" y="202.70" font-size="6.7" text-anchor="end" font-weight="bold" >1</text>
<line x1="33.50" y1="311.10" x2="33.50" y2="313.90" stroke="#000" stroke-width="1.25" />
<text x="33.30" y="322.50" font-size="6.7" text-anchor="middle" font-weight="bold" >0</text>
<line x1="55.50" y1="311.10" x2="55.50" y2="313.90" stroke="#000" stroke-width="1.25" />
<text x="55.90" y="322.50" font-size="6.7" text-anchor="middle" font-weight="bold" >0.2</text>
<line x1="78.50" y1="311.10" x2="78.50" y2="313.90" stroke="#000" stroke-width="1.25" />
<text x="78.50" y="322.50" font-size="6.7" text-anchor="middle" font-weight="bold" >0.4</text>
<line x1="101.50" y1="311.10" x2="101.50" y2="313.90" stroke="#000" stroke-width="1.25" />
<text x="101.10" y="322.50" font-size="6.7" text-anchor="middle" font-weight="bold" >0.6</text>
<line x1="123.50" y1="311.10" x2="123.50" y2="313.90" stroke="#000" stroke-width="1.25" />
<text x="123.70" y="322.50" font-size="6.7" text-anchor="middle" font-weight="bold" >0.8</text>
<line x1="146.50" y1="311.10" x2="146.50" y2="313.90" stroke="#000" stroke-width="1.25" />
<text x="146.30" y="322.50" font-size="6.7" text-anchor="middle" font-weight="bold" >1</text>
<text x="94.80" y="333.80" font-size="8.75" text-anchor="middle" font-weight="bold" >Relative survival in HeLa</text>
<text x="13.20" y="252.20" font-size="8.75" text-anchor="middle" font-weight="bold" transform="rotate(-90 13.20 252.20)" xml:space="preserve">Relative survival in MCF7</text>
<line x1="93.00" y1="269.00" x2="136.00" y2="216.00" stroke="#000" stroke-width="1.6" stroke-dasharray="5 3.2"/>
<path d="M113.70 267.30H116.30V272.60H118.40L115.00 278.60L111.60 272.60H113.70Z" fill="#9a9a9a" stroke="#111" stroke-width="1.1" stroke-linejoin="miter"/>
<line x1="69.50" y1="306.50" x2="91.50" y2="306.50" stroke="#000" stroke-width="1.2" />
<line x1="69.50" y1="304.70" x2="69.50" y2="308.30" stroke="#000" stroke-width="1.2" />
<line x1="91.50" y1="304.70" x2="91.50" y2="308.30" stroke="#000" stroke-width="1.2" />
<circle cx="80.50" cy="306.50" r="2.3" fill="#000" stroke="#000" stroke-width="0.6"/>
<line x1="72.50" y1="298.50" x2="79.50" y2="298.50" stroke="#000" stroke-width="1.2" />
<line x1="72.50" y1="296.70" x2="72.50" y2="300.30" stroke="#000" stroke-width="1.2" />
<line x1="79.50" y1="296.70" x2="79.50" y2="300.30" stroke="#000" stroke-width="1.2" />
<circle cx="75.50" cy="298.50" r="2.0" fill="none" stroke="#000" stroke-width="1.35"/>
<line x1="76.50" y1="293.50" x2="88.50" y2="293.50" stroke="#000" stroke-width="1.2" />
<line x1="76.50" y1="291.70" x2="76.50" y2="295.30" stroke="#000" stroke-width="1.2" />
<line x1="88.50" y1="291.70" x2="88.50" y2="295.30" stroke="#000" stroke-width="1.2" />
<line x1="81.50" y1="290.50" x2="81.50" y2="297.50" stroke="#000" stroke-width="1.2" />
<line x1="79.70" y1="290.50" x2="83.30" y2="290.50" stroke="#000" stroke-width="1.2" />
<line x1="79.70" y1="297.50" x2="83.30" y2="297.50" stroke="#000" stroke-width="1.2" />
<circle cx="81.50" cy="293.50" r="2.3" fill="#000" stroke="#000" stroke-width="0.6"/>
<line x1="74.50" y1="285.50" x2="86.50" y2="285.50" stroke="#000" stroke-width="1.2" />
<line x1="74.50" y1="283.70" x2="74.50" y2="287.30" stroke="#000" stroke-width="1.2" />
<line x1="86.50" y1="283.70" x2="86.50" y2="287.30" stroke="#000" stroke-width="1.2" />
<circle cx="80.50" cy="285.50" r="2.0" fill="none" stroke="#000" stroke-width="1.35"/>
<line x1="85.50" y1="281.50" x2="85.50" y2="290.50" stroke="#000" stroke-width="1.2" />
<line x1="83.70" y1="281.50" x2="87.30" y2="281.50" stroke="#000" stroke-width="1.2" />
<line x1="83.70" y1="290.50" x2="87.30" y2="290.50" stroke="#000" stroke-width="1.2" />
<circle cx="85.50" cy="285.50" r="2.3" fill="#000" stroke="#000" stroke-width="0.6"/>
<line x1="84.50" y1="285.50" x2="99.50" y2="285.50" stroke="#000" stroke-width="1.2" />
<line x1="84.50" y1="283.70" x2="84.50" y2="287.30" stroke="#000" stroke-width="1.2" />
<line x1="99.50" y1="283.70" x2="99.50" y2="287.30" stroke="#000" stroke-width="1.2" />
<circle cx="90.50" cy="285.50" r="2.0" fill="none" stroke="#000" stroke-width="1.35"/>
<line x1="81.50" y1="280.50" x2="94.50" y2="280.50" stroke="#000" stroke-width="1.2" />
<line x1="81.50" y1="278.70" x2="81.50" y2="282.30" stroke="#000" stroke-width="1.2" />
<line x1="94.50" y1="278.70" x2="94.50" y2="282.30" stroke="#000" stroke-width="1.2" />
<line x1="87.50" y1="274.50" x2="87.50" y2="286.50" stroke="#000" stroke-width="1.2" />
<line x1="85.70" y1="274.50" x2="89.30" y2="274.50" stroke="#000" stroke-width="1.2" />
<line x1="85.70" y1="286.50" x2="89.30" y2="286.50" stroke="#000" stroke-width="1.2" />
<circle cx="87.50" cy="280.50" r="2.0" fill="none" stroke="#000" stroke-width="1.35"/>
<line x1="66.50" y1="271.50" x2="81.50" y2="271.50" stroke="#000" stroke-width="1.2" />
<line x1="66.50" y1="269.70" x2="66.50" y2="273.30" stroke="#000" stroke-width="1.2" />
<line x1="81.50" y1="269.70" x2="81.50" y2="273.30" stroke="#000" stroke-width="1.2" />
<line x1="73.50" y1="264.50" x2="73.50" y2="279.50" stroke="#000" stroke-width="1.2" />
<line x1="71.70" y1="264.50" x2="75.30" y2="264.50" stroke="#000" stroke-width="1.2" />
<line x1="71.70" y1="279.50" x2="75.30" y2="279.50" stroke="#000" stroke-width="1.2" />
<circle cx="73.50" cy="271.50" r="2.0" fill="none" stroke="#000" stroke-width="1.35"/>
<line x1="64.50" y1="277.50" x2="84.50" y2="277.50" stroke="#000" stroke-width="1.2" />
<line x1="64.50" y1="275.70" x2="64.50" y2="279.30" stroke="#000" stroke-width="1.2" />
<line x1="84.50" y1="275.70" x2="84.50" y2="279.30" stroke="#000" stroke-width="1.2" />
<circle cx="74.50" cy="277.50" r="2.0" fill="none" stroke="#000" stroke-width="1.35"/>
<line x1="77.50" y1="268.50" x2="93.50" y2="268.50" stroke="#000" stroke-width="1.2" />
<line x1="77.50" y1="266.70" x2="77.50" y2="270.30" stroke="#000" stroke-width="1.2" />
<line x1="93.50" y1="266.70" x2="93.50" y2="270.30" stroke="#000" stroke-width="1.2" />
<circle cx="85.50" cy="268.50" r="2.0" fill="#777" stroke="#000" stroke-width="1"/>
<circle cx="82.50" cy="290.50" r="2.3" fill="#000" stroke="#000" stroke-width="0.6"/>
<line x1="109.50" y1="285.50" x2="121.50" y2="285.50" stroke="#000" stroke-width="1.2" />
<line x1="109.50" y1="283.70" x2="109.50" y2="287.30" stroke="#000" stroke-width="1.2" />
<line x1="121.50" y1="283.70" x2="121.50" y2="287.30" stroke="#000" stroke-width="1.2" />
<line x1="115.50" y1="282.50" x2="115.50" y2="288.50" stroke="#000" stroke-width="1.2" />
<line x1="113.70" y1="282.50" x2="117.30" y2="282.50" stroke="#000" stroke-width="1.2" />
<line x1="113.70" y1="288.50" x2="117.30" y2="288.50" stroke="#000" stroke-width="1.2" />
<circle cx="115.50" cy="285.50" r="2.0" fill="none" stroke="#000" stroke-width="1.35"/>
<line x1="92.50" y1="213.50" x2="132.50" y2="213.50" stroke="#000" stroke-width="1.2" />
<line x1="92.50" y1="211.70" x2="92.50" y2="215.30" stroke="#000" stroke-width="1.2" />
<line x1="132.50" y1="211.70" x2="132.50" y2="215.30" stroke="#000" stroke-width="1.2" />
<line x1="122.50" y1="199.50" x2="122.50" y2="226.50" stroke="#000" stroke-width="1.2" />
<line x1="120.70" y1="199.50" x2="124.30" y2="199.50" stroke="#000" stroke-width="1.2" />
<line x1="120.70" y1="226.50" x2="124.30" y2="226.50" stroke="#000" stroke-width="1.2" />
<circle cx="122.50" cy="213.50" r="2.0" fill="#777" stroke="#000" stroke-width="1"/>
<line x1="111.50" y1="216.50" x2="118.50" y2="216.50" stroke="#000" stroke-width="1.2" />
<line x1="111.50" y1="214.70" x2="111.50" y2="218.30" stroke="#000" stroke-width="1.2" />
<line x1="118.50" y1="214.70" x2="118.50" y2="218.30" stroke="#000" stroke-width="1.2" />
<line x1="114.50" y1="201.50" x2="114.50" y2="226.50" stroke="#000" stroke-width="1.2" />
<line x1="112.70" y1="201.50" x2="116.30" y2="201.50" stroke="#000" stroke-width="1.2" />
<line x1="112.70" y1="226.50" x2="116.30" y2="226.50" stroke="#000" stroke-width="1.2" />
<circle cx="114.50" cy="216.50" r="2.3" fill="#000" stroke="#000" stroke-width="0.6"/>
<circle cx="112.50" cy="216.50" r="2.3" fill="#000" stroke="#000" stroke-width="0.6"/>
<line x1="125.50" y1="206.50" x2="132.50" y2="206.50" stroke="#000" stroke-width="1.2" />
<line x1="125.50" y1="204.70" x2="125.50" y2="208.30" stroke="#000" stroke-width="1.2" />
<line x1="132.50" y1="204.70" x2="132.50" y2="208.30" stroke="#000" stroke-width="1.2" />
<circle cx="128.50" cy="206.50" r="2.0" fill="none" stroke="#000" stroke-width="1.35"/>
<line x1="136.50" y1="200.50" x2="157.50" y2="200.50" stroke="#000" stroke-width="1.2" />
<line x1="136.50" y1="198.70" x2="136.50" y2="202.30" stroke="#000" stroke-width="1.2" />
<line x1="157.50" y1="198.70" x2="157.50" y2="202.30" stroke="#000" stroke-width="1.2" />
<line x1="145.50" y1="193.50" x2="145.50" y2="207.50" stroke="#000" stroke-width="1.2" />
<line x1="143.70" y1="193.50" x2="147.30" y2="193.50" stroke="#000" stroke-width="1.2" />
<line x1="143.70" y1="207.50" x2="147.30" y2="207.50" stroke="#000" stroke-width="1.2" />
<circle cx="145.50" cy="200.50" r="2.0" fill="none" stroke="#000" stroke-width="1.35"/>
<circle cx="144.50" cy="204.50" r="2.3" fill="#000" stroke="#000" stroke-width="0.6"/>
<line x1="144.50" y1="205.50" x2="144.50" y2="222.50" stroke="#000" stroke-width="1.2" />
<line x1="142.70" y1="205.50" x2="146.30" y2="205.50" stroke="#000" stroke-width="1.2" />
<line x1="142.70" y1="222.50" x2="146.30" y2="222.50" stroke="#000" stroke-width="1.2" />
<circle cx="144.50" cy="212.50" r="2.3" fill="#000" stroke="#000" stroke-width="0.6"/>
<line x1="146.50" y1="208.50" x2="146.50" y2="229.50" stroke="#000" stroke-width="1.2" />
<line x1="144.70" y1="208.50" x2="148.30" y2="208.50" stroke="#000" stroke-width="1.2" />
<line x1="144.70" y1="229.50" x2="148.30" y2="229.50" stroke="#000" stroke-width="1.2" />
<circle cx="146.50" cy="216.50" r="2.0" fill="none" stroke="#000" stroke-width="1.35"/>
<circle cx="138.50" cy="212.50" r="2.3" fill="#000" stroke="#000" stroke-width="0.6"/>
<line x1="126.50" y1="219.50" x2="137.50" y2="219.50" stroke="#000" stroke-width="1.2" />
<line x1="126.50" y1="217.70" x2="126.50" y2="221.30" stroke="#000" stroke-width="1.2" />
<line x1="137.50" y1="217.70" x2="137.50" y2="221.30" stroke="#000" stroke-width="1.2" />
<line x1="131.50" y1="212.50" x2="131.50" y2="228.50" stroke="#000" stroke-width="1.2" />
<line x1="129.70" y1="212.50" x2="133.30" y2="212.50" stroke="#000" stroke-width="1.2" />
<line x1="129.70" y1="228.50" x2="133.30" y2="228.50" stroke="#000" stroke-width="1.2" />
<circle cx="131.50" cy="219.50" r="2.3" fill="#000" stroke="#000" stroke-width="0.6"/>
<line x1="122.50" y1="223.50" x2="138.50" y2="223.50" stroke="#000" stroke-width="1.2" />
<line x1="122.50" y1="221.70" x2="122.50" y2="225.30" stroke="#000" stroke-width="1.2" />
<line x1="138.50" y1="221.70" x2="138.50" y2="225.30" stroke="#000" stroke-width="1.2" />
<circle cx="133.50" cy="223.50" r="2.3" fill="#000" stroke="#000" stroke-width="0.6"/>
<circle cx="130.50" cy="215.50" r="2.3" fill="#000" stroke="#000" stroke-width="0.6"/>
<line x1="144.50" y1="214.50" x2="144.50" y2="229.50" stroke="#000" stroke-width="1.2" />
<line x1="142.70" y1="214.50" x2="146.30" y2="214.50" stroke="#000" stroke-width="1.2" />
<line x1="142.70" y1="229.50" x2="146.30" y2="229.50" stroke="#000" stroke-width="1.2" />
<circle cx="144.50" cy="222.50" r="2.0" fill="none" stroke="#000" stroke-width="1.35"/>
<line x1="136.50" y1="234.50" x2="141.50" y2="234.50" stroke="#000" stroke-width="1.2" />
<line x1="136.50" y1="232.70" x2="136.50" y2="236.30" stroke="#000" stroke-width="1.2" />
<line x1="141.50" y1="232.70" x2="141.50" y2="236.30" stroke="#000" stroke-width="1.2" />
<line x1="138.50" y1="204.50" x2="138.50" y2="254.50" stroke="#000" stroke-width="1.2" />
<line x1="136.70" y1="204.50" x2="140.30" y2="204.50" stroke="#000" stroke-width="1.2" />
<line x1="136.70" y1="254.50" x2="140.30" y2="254.50" stroke="#000" stroke-width="1.2" />
<circle cx="138.50" cy="234.50" r="2.0" fill="none" stroke="#000" stroke-width="1.35"/>
<line x1="116.50" y1="239.50" x2="133.50" y2="239.50" stroke="#000" stroke-width="1.2" />
<line x1="116.50" y1="237.70" x2="116.50" y2="241.30" stroke="#000" stroke-width="1.2" />
<line x1="133.50" y1="237.70" x2="133.50" y2="241.30" stroke="#000" stroke-width="1.2" />
<line x1="124.50" y1="224.50" x2="124.50" y2="254.50" stroke="#000" stroke-width="1.2" />
<line x1="122.70" y1="224.50" x2="126.30" y2="224.50" stroke="#000" stroke-width="1.2" />
<line x1="122.70" y1="254.50" x2="126.30" y2="254.50" stroke="#000" stroke-width="1.2" />
<circle cx="124.50" cy="239.50" r="2.0" fill="none" stroke="#000" stroke-width="1.35"/>
<line x1="133.50" y1="203.50" x2="133.50" y2="244.50" stroke="#000" stroke-width="1.2" />
<line x1="131.70" y1="203.50" x2="135.30" y2="203.50" stroke="#000" stroke-width="1.2" />
<line x1="131.70" y1="244.50" x2="135.30" y2="244.50" stroke="#000" stroke-width="1.2" />
</g>
<g id="panelD">
<text x="181.30" y="185.70" font-size="14" text-anchor="start" font-weight="bold" >D</text>
<text x="234.60" y="184.10" font-size="7.1" text-anchor="end" font-weight="bold" >siBRCA1</text>
<text x="234.20" y="208.40" font-size="7.1" text-anchor="end" font-weight="bold" >HA-BRCA1</text>
<text x="233.60" y="227.80" font-size="7.1" text-anchor="end" font-weight="bold" >WB: BRCA1</text>
<text x="234.00" y="245.40" font-size="7.25" text-anchor="end" font-weight="bold" >WB: α-Tubulin</text>
<text x="243.30" y="183.33" font-size="9" text-anchor="middle" font-weight="bold" stroke-width="0.6">-</text>
<text x="261.70" y="183.18" font-size="8.0" text-anchor="middle" font-weight="bold" stroke-width="0.7">+</text>
<text x="280.00" y="183.18" font-size="8.0" text-anchor="middle" font-weight="bold" stroke-width="0.7">+</text>
<text x="298.30" y="183.18" font-size="8.0" text-anchor="middle" font-weight="bold" stroke-width="0.7">+</text>
<text x="316.60" y="183.18" font-size="8.0" text-anchor="middle" font-weight="bold" stroke-width="0.7">+</text>
<text x="334.90" y="183.18" font-size="8.0" text-anchor="middle" font-weight="bold" stroke-width="0.7">+</text>
<text x="353.20" y="183.18" font-size="8.0" text-anchor="middle" font-weight="bold" stroke-width="0.7">+</text>
<text x="371.50" y="183.18" font-size="8.0" text-anchor="middle" font-weight="bold" stroke-width="0.7">+</text>
<text x="245.90" y="210.40" font-size="6.9" text-anchor="start" font-weight="bold" transform="rotate(-90 245.90 210.40)" >vec</text>
<text x="264.20" y="210.40" font-size="6.9" text-anchor="start" font-weight="bold" transform="rotate(-90 264.20 210.40)" >vec</text>
<text x="282.30" y="210.40" font-size="6.3" text-anchor="start" font-weight="bold" transform="rotate(-90 282.30 210.40)" >WT</text>
<text x="300.60" y="210.40" font-size="6.3" text-anchor="start" font-weight="bold" transform="rotate(-90 300.60 210.40)" >M18T</text>
<text x="318.90" y="210.40" font-size="6.3" text-anchor="start" font-weight="bold" transform="rotate(-90 318.90 210.40)" >I21V</text>
<text x="337.20" y="210.40" font-size="6.3" text-anchor="start" font-weight="bold" transform="rotate(-90 337.20 210.40)" >C47G</text>
<text x="355.50" y="210.40" font-size="6.3" text-anchor="start" font-weight="bold" transform="rotate(-90 355.50 210.40)" >R1699Q</text>
<text x="373.80" y="210.40" font-size="6.3" text-anchor="start" font-weight="bold" transform="rotate(-90 373.80 210.40)" >V1736A</text>
<defs><filter id="bl" x="-20%" y="-100%" width="140%" height="300%"><feGaussianBlur stdDeviation="0.9 0.9"/></filter><filter id="bl2" x="-20%" y="-100%" width="140%" height="300%"><feGaussianBlur stdDeviation="1 0.7"/></filter><linearGradient id="g1" x1="0" y1="0" x2="0" y2="1"><stop offset="0" stop-color="#dcdcdc"/><stop offset="0.3" stop-color="#c6c6c6"/><stop offset="0.75" stop-color="#c4c4c4"/><stop offset="1" stop-color="#cecece"/></linearGradient><clipPath id="c1"><rect x="235.5" y="213" width="146" height="19.6"/></clipPath><clipPath id="c2"><rect x="235.5" y="233.6" width="146" height="18.2"/></clipPath></defs>
<rect x="235.5" y="213" width="146" height="19.6" fill="url(#g1)"/>
<rect x="235.5" y="233.6" width="146" height="18.2" fill="#dadada"/>
<g clip-path="url(#c1)" filter="url(#bl)">
<rect x="235.3" y="216.5" width="16.4" height="12" rx="3" fill="#000" opacity="0.14"/>
<rect x="235.8" y="221.2" width="15.4" height="4.4" rx="2" fill="#000" opacity="0.74"/>
<rect x="253.6" y="216.5" width="16.4" height="12" rx="3" fill="#000" opacity="0.03"/>
<rect x="254.1" y="221.2" width="15.4" height="4.4" rx="2" fill="#000" opacity="0.17"/>
<rect x="271.9" y="216.5" width="16.4" height="12" rx="3" fill="#000" opacity="0.15"/>
<rect x="272.4" y="221.2" width="15.4" height="4.4" rx="2" fill="#000" opacity="0.76"/>
<rect x="290.2" y="216.5" width="16.4" height="12" rx="3" fill="#000" opacity="0.14"/>
<rect x="290.7" y="221.2" width="15.4" height="4.4" rx="2" fill="#000" opacity="0.70"/>
<rect x="308.5" y="216.5" width="16.4" height="12" rx="3" fill="#000" opacity="0.14"/>
<rect x="309.0" y="221.2" width="15.4" height="4.4" rx="2" fill="#000" opacity="0.70"/>
<rect x="326.8" y="216.5" width="16.4" height="12" rx="3" fill="#000" opacity="0.13"/>
<rect x="327.3" y="221.2" width="15.4" height="4.4" rx="2" fill="#000" opacity="0.66"/>
<rect x="345.1" y="216.5" width="16.4" height="12" rx="3" fill="#000" opacity="0.12"/>
<rect x="345.6" y="221.2" width="15.4" height="4.4" rx="2" fill="#000" opacity="0.62"/>
<rect x="363.4" y="216.5" width="16.4" height="12" rx="3" fill="#000" opacity="0.13"/>
<rect x="363.9" y="221.2" width="15.4" height="4.4" rx="2" fill="#000" opacity="0.66"/>
</g>
<g clip-path="url(#c2)" filter="url(#bl2)">
<ellipse cx="243.5" cy="243.2" rx="8.6" ry="1.9" fill="#000" opacity="0.9"/>
<ellipse cx="261.8" cy="243.2" rx="8.6" ry="1.9" fill="#000" opacity="0.9"/>
<ellipse cx="280.1" cy="243.2" rx="8.6" ry="1.9" fill="#000" opacity="0.9"/>
<ellipse cx="298.4" cy="243.2" rx="8.6" ry="1.9" fill="#000" opacity="0.9"/>
<ellipse cx="316.7" cy="243.2" rx="8.6" ry="1.9" fill="#000" opacity="0.9"/>
<ellipse cx="335.0" cy="243.2" rx="8.6" ry="1.9" fill="#000" opacity="0.9"/>
<ellipse cx="353.3" cy="243.2" rx="8.6" ry="1.9" fill="#000" opacity="0.9"/>
<ellipse cx="371.6" cy="243.2" rx="8.6" ry="1.9" fill="#000" opacity="0.9"/>
<rect x="236" y="242.5" width="145" height="1.2" fill="#000" opacity="0.55"/>
</g>
</g>
<g id="panelE">
<text x="185.30" y="274.70" font-size="14" text-anchor="start" font-weight="bold" >E</text>
<line x1="231.70" y1="268.00" x2="231.70" y2="387.50" stroke="#000" stroke-width="1.2" />
<line x1="231.10" y1="386.90" x2="379.00" y2="386.90" stroke="#000" stroke-width="1.2" />
<line x1="229.00" y1="386.50" x2="231.70" y2="386.50" stroke="#000" stroke-width="1.25" />
<text x="225.50" y="389.30" font-size="6.7" text-anchor="end" font-weight="bold" >0</text>
<line x1="229.00" y1="366.50" x2="231.70" y2="366.50" stroke="#000" stroke-width="1.25" />
<text x="225.50" y="368.62" font-size="6.7" text-anchor="end" font-weight="bold" >0.2</text>
<line x1="229.00" y1="345.50" x2="231.70" y2="345.50" stroke="#000" stroke-width="1.25" />
<text x="225.50" y="347.94" font-size="6.7" text-anchor="end" font-weight="bold" >0.4</text>
<line x1="229.00" y1="324.50" x2="231.70" y2="324.50" stroke="#000" stroke-width="1.25" />
<text x="225.50" y="327.26" font-size="6.7" text-anchor="end" font-weight="bold" >0.6</text>
<line x1="229.00" y1="304.50" x2="231.70" y2="304.50" stroke="#000" stroke-width="1.25" />
<text x="225.50" y="306.58" font-size="6.7" text-anchor="end" font-weight="bold" >0.8</text>
<line x1="229.00" y1="283.50" x2="231.70" y2="283.50" stroke="#000" stroke-width="1.25" />
<text x="225.50" y="285.90" font-size="6.7" text-anchor="end" font-weight="bold" >1</text>
<text x="210.60" y="330.80" font-size="8.75" text-anchor="middle" font-weight="bold" transform="rotate(-90 210.60 330.80)" >Relative HR activity</text>
<rect x="235.20" y="383.80" width="8.8" height="3.10" fill="#dcdcdc" stroke="#151515" stroke-width="1.05"/>
<line x1="239.60" y1="382.60" x2="239.60" y2="384.40" stroke="#000" stroke-width="1.15" />
<line x1="237.30" y1="382.60" x2="241.90" y2="382.60" stroke="#000" stroke-width="1.15" />
<line x1="237.30" y1="384.40" x2="241.90" y2="384.40" stroke="#000" stroke-width="1.15" />
<rect x="251.57" y="285.90" width="8.8" height="101.00" fill="#dcdcdc" stroke="#151515" stroke-width="1.05"/>
<rect x="267.94" y="374.70" width="8.8" height="12.20" fill="#dcdcdc" stroke="#151515" stroke-width="1.05"/>
<line x1="272.34" y1="369.20" x2="272.34" y2="379.00" stroke="#000" stroke-width="1.15" />
<line x1="270.04" y1="369.20" x2="274.64" y2="369.20" stroke="#000" stroke-width="1.15" />
<line x1="270.04" y1="379.00" x2="274.64" y2="379.00" stroke="#000" stroke-width="1.15" />
<rect x="284.31" y="283.80" width="8.8" height="103.10" fill="#dcdcdc" stroke="#151515" stroke-width="1.05"/>
<line x1="288.71" y1="274.80" x2="288.71" y2="292.10" stroke="#000" stroke-width="1.15" />
<line x1="286.41" y1="274.80" x2="291.01" y2="274.80" stroke="#000" stroke-width="1.15" />
<line x1="286.41" y1="292.10" x2="291.01" y2="292.10" stroke="#000" stroke-width="1.15" />
<rect x="300.68" y="381.30" width="8.8" height="5.60" fill="#dcdcdc" stroke="#151515" stroke-width="1.05"/>
<line x1="305.08" y1="376.40" x2="305.08" y2="385.00" stroke="#000" stroke-width="1.15" />
<line x1="302.78" y1="376.40" x2="307.38" y2="376.40" stroke="#000" stroke-width="1.15" />
<line x1="302.78" y1="385.00" x2="307.38" y2="385.00" stroke="#000" stroke-width="1.15" />
<rect x="317.05" y="316.80" width="8.8" height="70.10" fill="#dcdcdc" stroke="#151515" stroke-width="1.05"/>
<line x1="321.45" y1="312.50" x2="321.45" y2="320.90" stroke="#000" stroke-width="1.15" />
<line x1="319.15" y1="312.50" x2="323.75" y2="312.50" stroke="#000" stroke-width="1.15" />
<line x1="319.15" y1="320.90" x2="323.75" y2="320.90" stroke="#000" stroke-width="1.15" />
<rect x="333.42" y="342.60" width="8.8" height="44.30" fill="#dcdcdc" stroke="#151515" stroke-width="1.05"/>
<line x1="337.82" y1="336.30" x2="337.82" y2="348.50" stroke="#000" stroke-width="1.15" />
<line x1="335.52" y1="336.30" x2="340.12" y2="336.30" stroke="#000" stroke-width="1.15" />
<line x1="335.52" y1="348.50" x2="340.12" y2="348.50" stroke="#000" stroke-width="1.15" />
<rect x="349.79" y="323.05" width="8.8" height="63.85" fill="#dcdcdc" stroke="#151515" stroke-width="1.05"/>
<line x1="354.19" y1="316.00" x2="354.19" y2="328.70" stroke="#000" stroke-width="1.15" />
<line x1="351.89" y1="316.00" x2="356.49" y2="316.00" stroke="#000" stroke-width="1.15" />
<line x1="351.89" y1="328.70" x2="356.49" y2="328.70" stroke="#000" stroke-width="1.15" />
<rect x="366.16" y="352.90" width="8.8" height="34.00" fill="#dcdcdc" stroke="#151515" stroke-width="1.05"/>
<line x1="370.56" y1="348.50" x2="370.56" y2="356.60" stroke="#000" stroke-width="1.15" />
<line x1="368.26" y1="348.50" x2="372.86" y2="348.50" stroke="#000" stroke-width="1.15" />
<line x1="368.26" y1="356.60" x2="372.86" y2="356.60" stroke="#000" stroke-width="1.15" />
<text x="354.19" y="315.40" font-size="7.8" text-anchor="middle" font-weight="bold" stroke="none">*</text>
<text x="370.16" y="346.20" font-size="7" text-anchor="middle" font-weight="bold" >¶¶</text>
<text x="242.00" y="401.60" font-size="6.9" text-anchor="middle" font-weight="bold" transform="rotate(-90 242.00 401.60)" >vec</text>
<text x="258.37" y="401.60" font-size="6.9" text-anchor="middle" font-weight="bold" transform="rotate(-90 258.37 401.60)" >vec</text>
<text x="274.74" y="401.60" font-size="6.9" text-anchor="middle" font-weight="bold" transform="rotate(-90 274.74 401.60)" >vec</text>
<text x="291.01" y="401.60" font-size="6.2" text-anchor="middle" font-weight="bold" transform="rotate(-90 291.01 401.60)" >WT</text>
<text x="307.38" y="401.60" font-size="6.2" text-anchor="middle" font-weight="bold" transform="rotate(-90 307.38 401.60)" >M18T</text>
<text x="323.75" y="401.60" font-size="6.2" text-anchor="middle" font-weight="bold" transform="rotate(-90 323.75 401.60)" >I21V</text>
<text x="340.12" y="401.60" font-size="6.2" text-anchor="middle" font-weight="bold" transform="rotate(-90 340.12 401.60)" >C47G</text>
<text x="356.49" y="401.60" font-size="6.2" text-anchor="middle" font-weight="bold" transform="rotate(-90 356.49 401.60)" >R1699Q</text>
<text x="372.86" y="401.60" font-size="6.2" text-anchor="middle" font-weight="bold" transform="rotate(-90 372.86 401.60)" >V1736A</text>
<text x="227.50" y="403.70" font-size="7.0" text-anchor="end" font-weight="bold" >HA-BRCA1</text>
<text x="227.50" y="420.00" font-size="7.0" text-anchor="end" font-weight="bold" >siBRCA1</text>
<text x="227.50" y="432.20" font-size="7.0" text-anchor="end" font-weight="bold" >gRNA</text>
<text x="239.30" y="420.63" font-size="9" text-anchor="middle" font-weight="bold" stroke-width="0.6">-</text>
<text x="240.80" y="430.20" font-size="6.7" text-anchor="middle" font-weight="bold" transform="rotate(-90 240.80 430.20)" >scr</text>
<text x="255.67" y="420.63" font-size="9" text-anchor="middle" font-weight="bold" stroke-width="0.6">-</text>
<text x="256.57" y="434.08" font-size="8.0" text-anchor="middle" font-weight="bold" stroke-width="0.7">+</text>
<text x="272.94" y="421.28" font-size="8.0" text-anchor="middle" font-weight="bold" stroke-width="0.7">+</text>
<text x="272.94" y="434.08" font-size="8.0" text-anchor="middle" font-weight="bold" stroke-width="0.7">+</text>
<text x="289.31" y="421.28" font-size="8.0" text-anchor="middle" font-weight="bold" stroke-width="0.7">+</text>
<text x="289.31" y="434.08" font-size="8.0" text-anchor="middle" font-weight="bold" stroke-width="0.7">+</text>
<text x="305.68" y="421.28" font-size="8.0" text-anchor="middle" font-weight="bold" stroke-width="0.7">+</text>
<text x="305.68" y="434.08" font-size="8.0" text-anchor="middle" font-weight="bold" stroke-width="0.7">+</text>
<text x="322.05" y="421.28" font-size="8.0" text-anchor="middle" font-weight="bold" stroke-width="0.7">+</text>
<text x="322.05" y="434.08" font-size="8.0" text-anchor="middle" font-weight="bold" stroke-width="0.7">+</text>
<text x="338.42" y="421.28" font-size="8.0" text-anchor="middle" font-weight="bold" stroke-width="0.7">+</text>
<text x="338.42" y="434.08" font-size="8.0" text-anchor="middle" font-weight="bold" stroke-width="0.7">+</text>
<text x="354.79" y="421.28" font-size="8.0" text-anchor="middle" font-weight="bold" stroke-width="0.7">+</text>
<text x="354.79" y="434.08" font-size="8.0" text-anchor="middle" font-weight="bold" stroke-width="0.7">+</text>
<text x="371.16" y="421.28" font-size="8.0" text-anchor="middle" font-weight="bold" stroke-width="0.7">+</text>
<text x="371.16" y="434.08" font-size="8.0" text-anchor="middle" font-weight="bold" stroke-width="0.7">+</text>
</g>
<g id="panelF">
<text x="3.20" y="395.00" font-size="14" text-anchor="start" font-weight="bold" >F</text>
<line x1="44.80" y1="389.50" x2="44.80" y2="508.60" stroke="#000" stroke-width="1.2" />
<line x1="44.20" y1="508.00" x2="174.50" y2="508.00" stroke="#000" stroke-width="1.2" />
<line x1="42.10" y1="508.50" x2="44.80" y2="508.50" stroke="#000" stroke-width="1.25" />
<text x="38.60" y="510.40" font-size="6.7" text-anchor="end" font-weight="bold" >0</text>
<line x1="42.10" y1="486.50" x2="44.80" y2="486.50" stroke="#000" stroke-width="1.25" />
<text x="38.60" y="488.74" font-size="6.7" text-anchor="end" font-weight="bold" >0.2</text>
<line x1="42.10" y1="464.50" x2="44.80" y2="464.50" stroke="#000" stroke-width="1.25" />
<text x="38.60" y="467.08" font-size="6.7" text-anchor="end" font-weight="bold" >0.4</text>
<line x1="42.10" y1="443.50" x2="44.80" y2="443.50" stroke="#000" stroke-width="1.25" />
<text x="38.60" y="445.42" font-size="6.7" text-anchor="end" font-weight="bold" >0.6</text>
<line x1="42.10" y1="421.50" x2="44.80" y2="421.50" stroke="#000" stroke-width="1.25" />
<text x="38.60" y="423.76" font-size="6.7" text-anchor="end" font-weight="bold" >0.8</text>
<line x1="42.10" y1="399.50" x2="44.80" y2="399.50" stroke="#000" stroke-width="1.25" />
<text x="38.60" y="402.10" font-size="6.7" text-anchor="end" font-weight="bold" >1</text>
<text x="23.00" y="455.60" font-size="8.75" text-anchor="middle" font-weight="bold" transform="rotate(-90 23.00 455.60)" >Relative survival</text>
<rect x="47.75" y="402.30" width="8.8" height="105.70" fill="#808080" stroke="#151515" stroke-width="1.05"/>
<rect x="64.11" y="479.30" width="8.8" height="28.70" fill="#808080" stroke="#151515" stroke-width="1.05"/>
<line x1="68.51" y1="474.40" x2="68.51" y2="483.90" stroke="#000" stroke-width="1.15" />
<line x1="66.21" y1="474.40" x2="70.81" y2="474.40" stroke="#000" stroke-width="1.15" />
<line x1="66.21" y1="483.90" x2="70.81" y2="483.90" stroke="#000" stroke-width="1.15" />
<rect x="80.47" y="399.60" width="8.8" height="108.40" fill="#808080" stroke="#151515" stroke-width="1.05"/>
<line x1="84.87" y1="393.00" x2="84.87" y2="406.00" stroke="#000" stroke-width="1.15" />
<line x1="82.57" y1="393.00" x2="87.17" y2="393.00" stroke="#000" stroke-width="1.15" />
<line x1="82.57" y1="406.00" x2="87.17" y2="406.00" stroke="#000" stroke-width="1.15" />
<rect x="96.83" y="496.60" width="8.8" height="11.40" fill="#808080" stroke="#151515" stroke-width="1.05"/>
<line x1="101.23" y1="491.00" x2="101.23" y2="502.40" stroke="#000" stroke-width="1.15" />
<line x1="98.93" y1="491.00" x2="103.53" y2="491.00" stroke="#000" stroke-width="1.15" />
<line x1="98.93" y1="502.40" x2="103.53" y2="502.40" stroke="#000" stroke-width="1.15" />
<rect x="113.19" y="429.90" width="8.8" height="78.10" fill="#808080" stroke="#151515" stroke-width="1.05"/>
<line x1="117.59" y1="424.50" x2="117.59" y2="435.20" stroke="#000" stroke-width="1.15" />
<line x1="115.29" y1="424.50" x2="119.89" y2="424.50" stroke="#000" stroke-width="1.15" />
<line x1="115.29" y1="435.20" x2="119.89" y2="435.20" stroke="#000" stroke-width="1.15" />
<rect x="129.55" y="456.80" width="8.8" height="51.20" fill="#808080" stroke="#151515" stroke-width="1.05"/>
<line x1="133.95" y1="453.70" x2="133.95" y2="459.30" stroke="#000" stroke-width="1.15" />
<line x1="131.65" y1="453.70" x2="136.25" y2="453.70" stroke="#000" stroke-width="1.15" />
<line x1="131.65" y1="459.30" x2="136.25" y2="459.30" stroke="#000" stroke-width="1.15" />
<rect x="145.91" y="446.90" width="8.8" height="61.10" fill="#808080" stroke="#151515" stroke-width="1.05"/>
<line x1="150.31" y1="440.00" x2="150.31" y2="452.80" stroke="#000" stroke-width="1.15" />
<line x1="148.01" y1="440.00" x2="152.61" y2="440.00" stroke="#000" stroke-width="1.15" />
<line x1="148.01" y1="452.80" x2="152.61" y2="452.80" stroke="#000" stroke-width="1.15" />
<rect x="162.27" y="463.30" width="8.8" height="44.70" fill="#808080" stroke="#151515" stroke-width="1.05"/>
<line x1="166.67" y1="459.30" x2="166.67" y2="467.30" stroke="#000" stroke-width="1.15" />
<line x1="164.37" y1="459.30" x2="168.97" y2="459.30" stroke="#000" stroke-width="1.15" />
<line x1="164.37" y1="467.30" x2="168.97" y2="467.30" stroke="#000" stroke-width="1.15" />
<text x="150.31" y="439.20" font-size="7.8" text-anchor="middle" font-weight="bold" stroke="none">**</text>
<text x="166.87" y="456.40" font-size="7" text-anchor="middle" font-weight="bold" >¶¶</text>
<text x="54.55" y="521.60" font-size="6.9" text-anchor="middle" font-weight="bold" transform="rotate(-90 54.55 521.60)" >vec</text>
<text x="70.91" y="521.60" font-size="6.9" text-anchor="middle" font-weight="bold" transform="rotate(-90 70.91 521.60)" >vec</text>
<text x="87.17" y="521.60" font-size="6.2" text-anchor="middle" font-weight="bold" transform="rotate(-90 87.17 521.60)" >WT</text>
<text x="103.53" y="521.60" font-size="6.2" text-anchor="middle" font-weight="bold" transform="rotate(-90 103.53 521.60)" >M18T</text>
<text x="119.89" y="521.60" font-size="6.2" text-anchor="middle" font-weight="bold" transform="rotate(-90 119.89 521.60)" >I21V</text>
<text x="136.25" y="521.60" font-size="6.2" text-anchor="middle" font-weight="bold" transform="rotate(-90 136.25 521.60)" >C47G</text>
<text x="152.61" y="521.60" font-size="6.2" text-anchor="middle" font-weight="bold" transform="rotate(-90 152.61 521.60)" >R1699Q</text>
<text x="168.97" y="521.60" font-size="6.2" text-anchor="middle" font-weight="bold" transform="rotate(-90 168.97 521.60)" >V1736A</text>
<text x="43.20" y="523.80" font-size="7.0" text-anchor="end" font-weight="bold" >HA-BRCA1</text>
<text x="43.20" y="540.50" font-size="7.0" text-anchor="end" font-weight="bold" >siBRCA1</text>
<text x="51.95" y="542.13" font-size="9" text-anchor="middle" font-weight="bold" stroke-width="0.6">-</text>
<text x="68.31" y="542.48" font-size="8.0" text-anchor="middle" font-weight="bold" stroke-width="0.7">+</text>
<text x="84.67" y="542.48" font-size="8.0" text-anchor="middle" font-weight="bold" stroke-width="0.7">+</text>
<text x="101.03" y="542.48" font-size="8.0" text-anchor="middle" font-weight="bold" stroke-width="0.7">+</text>
<text x="117.39" y="542.48" font-size="8.0" text-anchor="middle" font-weight="bold" stroke-width="0.7">+</text>
<text x="133.75" y="542.48" font-size="8.0" text-anchor="middle" font-weight="bold" stroke-width="0.7">+</text>
<text x="150.11" y="542.48" font-size="8.0" text-anchor="middle" font-weight="bold" stroke-width="0.7">+</text>
<text x="166.47" y="542.48" font-size="8.0" text-anchor="middle" font-weight="bold" stroke-width="0.7">+</text>
</g>
<g id="panelG">
<text x="204.80" y="465.30" font-size="14" text-anchor="start" font-weight="bold" >G</text>
<line x1="242.20" y1="453.50" x2="242.20" y2="575.45" stroke="#000" stroke-width="1.3" />
<line x1="241.55" y1="574.80" x2="359.50" y2="574.80" stroke="#000" stroke-width="1.3" />
<line x1="239.50" y1="574.50" x2="242.20" y2="574.50" stroke="#000" stroke-width="1.25" />
<text x="236.00" y="577.30" font-size="6.6" text-anchor="end" font-weight="bold" >0</text>
<line x1="239.50" y1="552.50" x2="242.20" y2="552.50" stroke="#000" stroke-width="1.25" />
<text x="236.00" y="555.22" font-size="6.6" text-anchor="end" font-weight="bold" >0.2</text>
<line x1="239.50" y1="530.50" x2="242.20" y2="530.50" stroke="#000" stroke-width="1.25" />
<text x="236.00" y="533.14" font-size="6.6" text-anchor="end" font-weight="bold" >0.4</text>
<line x1="239.50" y1="508.50" x2="242.20" y2="508.50" stroke="#000" stroke-width="1.25" />
<text x="236.00" y="511.06" font-size="6.6" text-anchor="end" font-weight="bold" >0.6</text>
<line x1="239.50" y1="486.50" x2="242.20" y2="486.50" stroke="#000" stroke-width="1.25" />
<text x="236.00" y="488.98" font-size="6.6" text-anchor="end" font-weight="bold" >0.8</text>
<line x1="239.50" y1="464.50" x2="242.20" y2="464.50" stroke="#000" stroke-width="1.25" />
<text x="236.00" y="466.90" font-size="6.6" text-anchor="end" font-weight="bold" >1</text>
<line x1="242.50" y1="574.80" x2="242.50" y2="577.60" stroke="#000" stroke-width="1.25" />
<text x="242.30" y="586.00" font-size="6.6" text-anchor="middle" font-weight="bold" >0</text>
<line x1="261.50" y1="574.80" x2="261.50" y2="577.60" stroke="#000" stroke-width="1.25" />
<text x="261.76" y="586.00" font-size="6.6" text-anchor="middle" font-weight="bold" >0.2</text>
<line x1="281.50" y1="574.80" x2="281.50" y2="577.60" stroke="#000" stroke-width="1.25" />
<text x="281.22" y="586.00" font-size="6.6" text-anchor="middle" font-weight="bold" >0.4</text>
<line x1="300.50" y1="574.80" x2="300.50" y2="577.60" stroke="#000" stroke-width="1.25" />
<text x="300.68" y="586.00" font-size="6.6" text-anchor="middle" font-weight="bold" >0.6</text>
<line x1="320.50" y1="574.80" x2="320.50" y2="577.60" stroke="#000" stroke-width="1.25" />
<text x="320.14" y="586.00" font-size="6.6" text-anchor="middle" font-weight="bold" >0.8</text>
<line x1="339.50" y1="574.80" x2="339.50" y2="577.60" stroke="#000" stroke-width="1.25" />
<text x="339.60" y="586.00" font-size="6.6" text-anchor="middle" font-weight="bold" >1</text>
<line x1="359.50" y1="574.80" x2="359.50" y2="577.60" stroke="#000" stroke-width="1.25" />
<text x="359.06" y="586.00" font-size="6.6" text-anchor="middle" font-weight="bold" >1.2</text>
<text x="303.00" y="596.90" font-size="8.4" text-anchor="middle" font-weight="bold" >Relative HR activity</text>
<text x="220.40" y="521.10" font-size="8.4" text-anchor="middle" font-weight="bold" transform="rotate(-90 220.40 521.10)" xml:space="preserve">Relative survival</text>
<line x1="253.00" y1="533.00" x2="351.50" y2="463.30" stroke="#000" stroke-width="1.6" stroke-dasharray="5 3.2"/>
<circle cx="263.30" cy="494.80" r="2.1" fill="#fff" stroke="#000" stroke-width="1.4"/>
<circle cx="249.40" cy="533.30" r="2.1" fill="#fff" stroke="#000" stroke-width="1.4"/>
<circle cx="259.20" cy="524.00" r="2.1" fill="#fff" stroke="#000" stroke-width="1.4"/>
<circle cx="259.20" cy="534.80" r="2.1" fill="#fff" stroke="#000" stroke-width="1.4"/>
<circle cx="260.40" cy="535.60" r="2.1" fill="#fff" stroke="#000" stroke-width="1.4"/>
<circle cx="265.00" cy="528.00" r="2.1" fill="#fff" stroke="#000" stroke-width="1.4"/>
<circle cx="270.00" cy="529.00" r="2.1" fill="#fff" stroke="#000" stroke-width="1.4"/>
<circle cx="273.30" cy="528.50" r="2.1" fill="#fff" stroke="#000" stroke-width="1.4"/>
<circle cx="275.80" cy="519.20" r="2.1" fill="#fff" stroke="#000" stroke-width="1.4"/>
<circle cx="283.50" cy="521.90" r="2.1" fill="#fff" stroke="#000" stroke-width="1.4"/>
<circle cx="283.50" cy="524.20" r="2.1" fill="#fff" stroke="#000" stroke-width="1.4"/>
<circle cx="308.30" cy="479.80" r="2.1" fill="#fff" stroke="#000" stroke-width="1.4"/>
<circle cx="309.20" cy="488.30" r="2.1" fill="#fff" stroke="#000" stroke-width="1.4"/>
<circle cx="306.70" cy="495.60" r="2.1" fill="#fff" stroke="#000" stroke-width="1.4"/>
<circle cx="305.50" cy="496.60" r="2.1" fill="#fff" stroke="#000" stroke-width="1.4"/>
<circle cx="319.60" cy="485.60" r="2.1" fill="#fff" stroke="#000" stroke-width="1.4"/>
<circle cx="325.40" cy="495.00" r="2.1" fill="#fff" stroke="#000" stroke-width="1.4"/>
<circle cx="327.90" cy="478.00" r="2.1" fill="#fff" stroke="#000" stroke-width="1.4"/>
<circle cx="329.00" cy="481.50" r="2.1" fill="#fff" stroke="#000" stroke-width="1.4"/>
<circle cx="332.70" cy="480.00" r="2.1" fill="#fff" stroke="#000" stroke-width="1.4"/>
<circle cx="331.70" cy="476.25" r="2.1" fill="#fff" stroke="#000" stroke-width="1.4"/>
<circle cx="332.30" cy="472.50" r="2.1" fill="#fff" stroke="#000" stroke-width="1.4"/>
<circle cx="333.75" cy="471.70" r="2.1" fill="#fff" stroke="#000" stroke-width="1.4"/>
<circle cx="339.60" cy="464.80" r="2.1" fill="#fff" stroke="#000" stroke-width="1.4"/>
<circle cx="341.70" cy="464.80" r="2.1" fill="#fff" stroke="#000" stroke-width="1.4"/>
<circle cx="340.00" cy="467.50" r="2.1" fill="#fff" stroke="#000" stroke-width="1.4"/>
<circle cx="342.50" cy="466.90" r="2.1" fill="#fff" stroke="#000" stroke-width="1.4"/>
<circle cx="345.80" cy="467.30" r="2.1" fill="#fff" stroke="#000" stroke-width="1.4"/>
<circle cx="354.60" cy="479.40" r="2.1" fill="#fff" stroke="#000" stroke-width="1.4"/>
<line x1="273.50" y1="528.50" x2="279.50" y2="528.50" stroke="#000" stroke-width="1.2" />
<line x1="273.50" y1="527.00" x2="273.50" y2="530.00" stroke="#000" stroke-width="1.2" />
<line x1="279.50" y1="527.00" x2="279.50" y2="530.00" stroke="#000" stroke-width="1.2" />
<line x1="276.50" y1="525.50" x2="276.50" y2="531.50" stroke="#000" stroke-width="1.2" />
<line x1="275.00" y1="525.50" x2="278.00" y2="525.50" stroke="#000" stroke-width="1.2" />
<line x1="275.00" y1="531.50" x2="278.00" y2="531.50" stroke="#000" stroke-width="1.2" />
<path d="M273.70 528.50L276.50 525.70L279.30 528.50L276.50 531.30Z" fill="#000"/>
<line x1="298.50" y1="510.50" x2="310.50" y2="510.50" stroke="#000" stroke-width="1.2" />
<line x1="298.50" y1="508.70" x2="298.50" y2="512.30" stroke="#000" stroke-width="1.2" />
<line x1="310.50" y1="508.70" x2="310.50" y2="512.30" stroke="#000" stroke-width="1.2" />
<line x1="304.50" y1="504.50" x2="304.50" y2="517.50" stroke="#000" stroke-width="1.2" />
<line x1="302.70" y1="504.50" x2="306.30" y2="504.50" stroke="#000" stroke-width="1.2" />
<line x1="302.70" y1="517.50" x2="306.30" y2="517.50" stroke="#000" stroke-width="1.2" />
<path d="M301.40 510.50L304.50 507.40L307.60 510.50L304.50 513.60Z" fill="#000"/>
<line x1="282.70" y1="539.60" x2="279.30" y2="533.60" stroke="#000" stroke-width="1.4" />
<path d="M277.2 530L282.3 532.6L277.9 535.4Z" fill="#000"/>
<path d="M308.3 515.2L314 517.6L309.6 520.2Z" fill="#111"/>
</g>
</svg>
</body></html>
